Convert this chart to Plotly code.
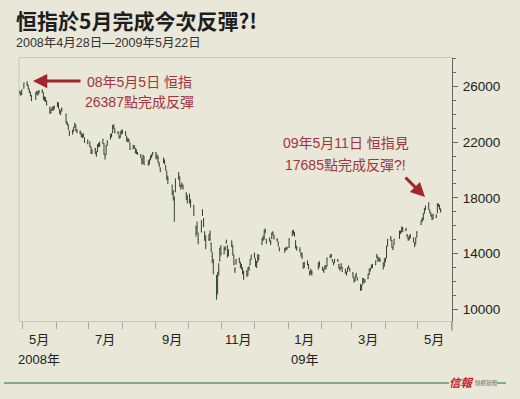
import pandas as pd
import plotly.graph_objects as go

# ---------------- data ----------------
HOLIDAYS = ["2008-05-01", "2008-05-12", "2008-06-09", "2008-07-01", "2008-08-22",
            "2008-09-15", "2008-10-01", "2008-10-07", "2008-12-25", "2008-12-26",
            "2009-01-01", "2009-01-26", "2009-01-27", "2009-01-28", "2009-04-10",
            "2009-04-13", "2009-05-01"]
DATES = [d.strftime("%Y-%m-%d") for d in pd.bdate_range("2008-04-28", "2009-05-22")
         if d.strftime("%Y-%m-%d") not in HOLIDAYS]

OPEN = [
    25600, 25580, 25450,
    25900, 26250, 26100, 25800, 25550, 25350, 25100, 25600, 25450, 25650, 25700, 25550, 25000, 25200, 24950, 24500, 24150, 24350, 24500, 24450,
    24600, 24800, 24350, 24050, 24350, 24000, 23400, 23250, 22800, 22650, 22850, 23150, 23200, 22850, 22700, 22650, 22450, 22550, 22300, 21950,
    22000, 21650, 21300, 21500, 21100, 21350, 21750, 21850, 21950, 21900, 21050, 21150, 21800, 22250, 22450, 22700, 23100, 22950, 22650, 22450, 22400, 22750,
    22700, 22750, 22400, 22150, 22200, 21950, 21550, 21750, 21550, 21200, 21250, 21100, 20800, 20500, 20950, 20400, 20500, 20750, 21050, 21150,
    21250, 20900, 20950, 20500, 20100, 20600, 20700, 20300, 19900, 19300, 18900, 18400, 17900, 18500, 19400, 19500, 18700, 18900, 18800, 18300, 17700,
    18200, 17500, 17400, 15900, 15800, 15000, 15600, 17100, 16500, 15300, 15000, 15000, 15500, 14700, 13800, 13500, 12400, 11200, 12800, 13500, 14400,
    14000, 14350, 14800, 14500, 13900, 14500, 14600, 13850, 12800, 13300, 13600, 13300, 13200, 12900, 12400, 12700, 12500, 12950, 13200, 13600,
    14000, 13600, 13100, 13400, 13600, 14700, 15100, 15100, 15700, 15000, 14900, 14800, 15100, 15400, 15300, 15000, 14800, 14400, 14100, 14300, 14400,
    14450, 15300, 15600, 15500, 14900, 14300, 14200, 14000, 14000, 13300, 13100, 13400, 13200, 12600, 12800, 12600, 12900, 13100,
    13000, 12700, 12900, 13050, 13100, 13750, 13800, 13450, 13300, 13350, 13550, 13200, 12900, 13000, 13000, 12600, 12600, 12700, 13050, 12900,
    12600, 12200, 12050, 12450, 12200, 11750, 11400, 11800, 12150, 11950, 12200, 12500, 12850, 12950, 13100, 13200, 13700, 13750, 13550, 13600, 13300, 13100,
    13600, 13700, 14600, 15100, 14900, 14300, 14650, 15100, 15500, 15600, 15800, 15700, 15300, 15100, 15100, 15200, 15100, 14700, 14700, 15200,
    16100, 16400, 16500, 16900, 17200, 17300, 17100, 16850, 16700, 16500, 16600, 16900, 17500, 17450, 17150,
]
HIGH = [
    25750, 25650, 25790,
    26300, 26387, 26150, 25850, 25650, 25400, 25600, 25700, 25700, 25750, 25800, 25600, 25300, 25250, 25000, 24550, 24400, 24550, 24600, 24650,
    24900, 24850, 24400, 24300, 24500, 24050, 23500, 23300, 22850, 22900, 23100, 23400, 23250, 22950, 22850, 22700, 22600, 22650, 22350, 22200,
    22050, 21700, 21500, 21600, 21350, 21850, 21950, 22050, 22250, 21950, 21150, 21800, 22150, 22600, 22650, 23250, 23300, 23000, 22800, 22500, 22750, 22900,
    22900, 22800, 22450, 22300, 22250, 21980, 21800, 21800, 21600, 21500, 21300, 21150, 20850, 21100, 21000, 20700, 20800, 21050, 21150, 21300,
    21300, 21150, 21000, 20550, 20200, 20900, 20750, 20350, 19950, 19600, 18950, 18550, 18100, 19400, 19850, 19550, 18950, 19100, 18950, 18400, 18200,
    18300, 17900, 17500, 16000, 16300, 15500, 16400, 17180, 16550, 15600, 15300, 15400, 15650, 14800, 14100, 13600, 12450, 12650, 13300, 14400, 14600,
    14500, 14500, 15000, 14600, 14300, 14950, 14600, 13900, 13000, 13600, 13700, 13400, 13250, 13000, 12750, 12800, 13000, 13100, 13600, 13900,
    14050, 13650, 13450, 13950, 13900, 15100, 15300, 15700, 15800, 15050, 15150, 14950, 15500, 15600, 15350, 15100, 14850, 14450, 14400, 14450, 14500,
    15100, 15650, 15700, 15550, 14950, 14550, 14450, 14100, 14050, 13350, 13400, 13500, 13250, 12750, 12900, 12800, 13350, 13450,
    13050, 12900, 13150, 13150, 13700, 13950, 13950, 13600, 13400, 13600, 13600, 13250, 13050, 13300, 13050, 12900, 12700, 13000, 13150, 12950,
    12650, 12250, 12400, 12600, 12300, 11800, 11750, 12250, 12200, 12150, 12550, 12900, 12950, 13200, 13250, 13500, 13950, 13800, 13700, 13700, 13350, 13650,
    13700, 14550, 15050, 15250, 14950, 14550, 15050, 15650, 15650, 15950, 15900, 15850, 15400, 15200, 15300, 15400, 15150, 14800, 15150, 15600,
    16400, 16600, 16900, 17250, 17450, 17685, 17150, 16950, 16800, 16850, 16800, 17600, 17600, 17500, 17250,
]
LOW = [
    25450, 25350, 25400,
    25850, 26050, 25800, 25550, 25300, 24950, 25050, 25400, 25350, 25500, 25550, 25050, 24950, 24900, 24650, 24050, 24050, 24250, 24250, 24350,
    24550, 24400, 24050, 23950, 24200, 23350, 23200, 22900, 22450, 22550, 22750, 23050, 22800, 22650, 22550, 22350, 22300, 22350, 21950, 21850,
    21650, 21150, 21150, 21150, 20950, 21300, 21650, 21650, 21900, 21100, 20750, 21100, 21750, 22200, 22350, 22650, 22950, 22650, 22550, 22250, 22300, 22550,
    22600, 22450, 22050, 22000, 22000, 21450, 21500, 21550, 21200, 21150, 21100, 20850, 20400, 20450, 20350, 20300, 20400, 20700, 20850, 21050,
    20800, 20750, 20500, 20200, 19850, 20500, 20400, 19950, 19300, 19000, 18200, 17800, 16283, 18400, 19300, 18800, 18600, 18750, 18600, 17850, 17600,
    17600, 17300, 16700, 15200, 15400, 14650, 15500, 16700, 15900, 14900, 14300, 14900, 14900, 14100, 13300, 12500, 10676, 11050, 12400, 13400, 13850,
    13950, 14200, 14700, 13700, 13800, 14450, 13850, 13150, 12600, 13200, 13300, 12950, 12850, 12500, 12100, 12300, 12400, 12750, 13150, 13550,
    13650, 13050, 12950, 13350, 13500, 14600, 14900, 15000, 15450, 14700, 14850, 14600, 15050, 15300, 15000, 14850, 14500, 14150, 14050, 14200, 14250,
    14400, 15250, 15350, 15200, 14350, 14200, 14100, 13750, 13600, 12900, 12950, 13150, 12850, 12400, 12500, 12400, 12850, 13000,
    12750, 12600, 12850, 12850, 13050, 13650, 13700, 13400, 13150, 13300, 13400, 12900, 12750, 12900, 12650, 12550, 12400, 12650, 12900, 12700,
    12250, 11900, 12000, 12300, 12050, 11300, 11345, 11750, 11850, 11900, 12150, 12450, 12700, 12900, 12950, 13150, 13650, 13400, 13400, 13400, 12850, 13050,
    13350, 13650, 14500, 14900, 14400, 14250, 14600, 15050, 15400, 15500, 15550, 15600, 15150, 14900, 14950, 15100, 14800, 14450, 14650, 15150,
    16050, 16250, 16400, 16850, 17100, 17150, 16900, 16650, 16400, 16450, 16550, 16900, 17350, 17150, 16950,
]
CLOSE = [
    25628, 25534, 25755,
    26241, 26167, 25884, 25610, 25449, 25063, 25543, 25533, 25618, 25619, 25666, 25083, 25169, 24998, 24714, 24128, 24318, 24483, 24375, 24533,
    24831, 24481, 24124, 24255, 24403, 23376, 23327, 22971, 22592, 22760, 23059, 23325, 22874, 22745, 22714, 22456, 22412, 22456, 22042, 22102,
    21702, 21242, 21423, 21220, 21220, 21811, 21881, 21800, 22184, 21174, 21011, 21735, 22057, 22532, 22495, 23134, 23087, 22741, 22690, 22340, 22690, 22731,
    22805, 22514, 22101, 22180, 22104, 21479, 21723, 21640, 21293, 21392, 21160, 20931, 20484, 21047, 20392, 20595, 20678, 20972, 21012, 21261,
    20907, 21042, 20586, 20389, 19933, 20794, 20491, 20040, 19388, 19352, 18300, 18086, 17632, 19327, 19632, 18872, 18800, 18934, 18682, 17880, 18016,
    17681, 17682, 16803, 15431, 15943, 14796, 16312, 16832, 15999, 15230, 14554, 15323, 15042, 14266, 13761, 12619, 11016, 12597, 12702, 14329, 13969,
    14345, 14384, 14840, 13790, 14244, 14744, 13939, 13221, 12901, 13542, 13529, 13130, 12915, 12815, 12659, 12458, 12958, 12878, 13552, 13888,
    13810, 13130, 13391, 13910, 13846, 15045, 14999, 15655, 15578, 14758, 15046, 14833, 15460, 15498, 15128, 14955, 14564, 14220, 14328, 14329, 14387,
    15042, 15563, 15509, 15328, 14415, 14377, 14272, 13971, 13701, 12977, 13255, 13256, 12958, 12584, 12693, 12579, 13267, 13278,
    12863, 12776, 13063, 12943, 13655, 13769, 13880, 13539, 13228, 13555, 13455, 12945, 12915, 13208, 12699, 12798, 12528, 12924, 13000, 12812,
    12317, 11973, 12333, 12480, 12110, 11344, 11694, 12194, 11950, 12001, 12486, 12876, 12834, 13130, 13117, 13447, 13910, 13493, 13620, 13456, 12908, 13576,
    13519, 14521, 14998, 15041, 14480, 14474, 15008, 15580, 15583, 15751, 15601, 15750, 15285, 15057, 15214, 15258, 14840, 14555, 15096, 15521,
    16381, 16430, 16880, 17217, 17389, 17185, 16934, 16790, 16541, 16790, 16738, 17544, 17475, 17199, 17063,
]

MONTH_TICKS = ["2008-05-16", "2008-07-16", "2008-09-16", "2008-11-16",
               "2009-01-16", "2009-03-16", "2009-05-16"]
MONTH_LABELS = ["5月", "7月", "9月", "11月", "1月", "3月", "5月"]
YEAR_TICKS = ["2008-05-16", "2009-01-16"]
YEAR_LABELS = ["2008年", "09年"]
MONTH_STARTS = ["2008-%02d-01" % m for m in range(5, 13)] + ["2009-%02d-01" % m for m in range(1, 7)]
Y_TICKS = [10000, 14000, 18000, 22000, 26000]
Y_LABELS = ["10000", "14000", "18000", "22000", "26000"]

TITLE = "恒指於5月完成今次反彈?!"
SUBTITLE = "2008年4月28日—2009年5月22日"
NOTE1 = ["08年5月5日 恒指", "26387點完成反彈"]
NOTE2 = ["09年5月11日 恒指見", "17685點完成反彈?!"]

assert len(DATES) == len(OPEN) == len(HIGH) == len(LOW) == len(CLOSE), \
    (len(DATES), len(OPEN), len(HIGH), len(LOW), len(CLOSE))

# ---------------- figure ----------------
BG = "#e8e7d8"
BAR = "#334233"
RED_TXT = "#a3343d"
RED_ARR = "#a3252b"
FONT = "Liberation Sans, Arial, Noto Sans CJK TC, sans-serif"

W, H = 520, 399
L, R, T, B = 19, 68, 58, 78
PW, PH = W - L - R, H - T - B


def px(x):
    return (x - L) / PW


def py(y):
    return (H - B - y) / PH


fig = go.Figure(go.Ohlc(
    x=DATES, open=OPEN, high=HIGH, low=LOW, close=CLOSE,
    increasing=dict(line=dict(color=BAR, width=1)),
    decreasing=dict(line=dict(color=BAR, width=1)),
    tickwidth=0.5, hoverinfo="skip",
))

fig.update_layout(
    width=W, height=H, autosize=False,
    margin=dict(l=L, r=R, t=T, b=B, pad=0),
    paper_bgcolor=BG, plot_bgcolor=BG,
    showlegend=False,
    font=dict(family=FONT, color="#222222"),
)

fig.update_xaxes(
    type="date", range=["2008-04-27 12:00", "2009-06-01 12:00"],
    rangeslider=dict(visible=False),
    showgrid=False, zeroline=False,
    showline=True, linecolor="#c6c6bc", linewidth=1, mirror=True,
    tickmode="array", tickvals=MONTH_TICKS, ticktext=MONTH_LABELS,
    ticks="", tickfont=dict(size=13, color="#222222"),
    ticklabelstandoff=6,
    minor=dict(tickmode="array", tickvals=MONTH_STARTS, ticks="outside",
               ticklen=7, tickcolor="#a8a8a0", tickwidth=1, showgrid=False),
)

fig.update_yaxes(
    side="right", range=[9140, 28060],
    showgrid=False, zeroline=False,
    showline=True, linecolor="#666666", linewidth=1,
    tickmode="array", tickvals=Y_TICKS, ticktext=Y_LABELS,
    ticks="outside", ticklen=5, tickcolor="#666666", tickwidth=1,
    tickfont=dict(size=13.5, color="#222222"),
    ticklabelstandoff=2,
    minor=dict(dtick=1000, tick0=0, ticks="outside", ticklen=3,
               tickcolor="#666666", showgrid=False),
)

shapes = [
    dict(type="line", xref="paper", yref="paper", x0=0, x1=0, y0=0, y1=1,
         line=dict(color="#c6c6bc", width=1)),
    dict(type="line", xref="paper", yref="paper", x0=1, x1=1, y0=0, y1=py(331),
         line=dict(color="#888888", width=1)),
    dict(type="line", xref="paper", yref="paper", x0=px(4), x1=px(449), y0=py(383), y1=py(383),
         line=dict(color="#5b9a66", width=1.5)),
    dict(type="line", xref="paper", yref="paper", x0=px(497), x1=px(506), y0=py(383), y1=py(383),
         line=dict(color="#5b9a66", width=1.5)),
]
fig.update_layout(shapes=shapes)

ann = []
ann.append(dict(xref="paper", yref="paper", x=px(14), y=py(20.5), xanchor="left", yanchor="middle",
                text="<b>%s</b>" % TITLE, showarrow=False,
                font=dict(size=21, color="#1e1e1e", family="Noto Sans CJK TC, sans-serif")))
ann.append(dict(xref="paper", yref="paper", x=px(14), y=py(43), xanchor="left", yanchor="middle",
                text=SUBTITLE, showarrow=False,
                font=dict(size=12.5, color="#333333", family=FONT)))
for t in range(2):
    ann.append(dict(xref="x", yref="paper", x=YEAR_TICKS[t], y=py(359.5), xanchor="center",
                    yanchor="middle", text=YEAR_LABELS[t], showarrow=False,
                    font=dict(size=13, color="#222222", family=FONT)))
for i, yy in enumerate([81.7, 101.7]):
    ann.append(dict(xref="paper", yref="paper", x=px(139), y=py(yy), xanchor="center",
                    yanchor="middle", text=NOTE1[i], showarrow=False,
                    font=dict(size=14, color=RED_TXT, family=FONT)))
for i, yy in enumerate([143, 164.5]):
    ann.append(dict(xref="paper", yref="paper", x=px(345.5), y=py(yy), xanchor="center",
                    yanchor="middle", text=NOTE2[i], showarrow=False,
                    font=dict(size=14, color=RED_TXT, family=FONT)))
ann.append(dict(xref="paper", yref="paper", x=px(33), y=py(81), ax=49, ay=0, text="",
                showarrow=True, arrowhead=2, arrowsize=0.95, arrowwidth=3,
                arrowcolor=RED_ARR, standoff=0))
ann.append(dict(xref="paper", yref="paper", x=px(425), y=py(197), ax=-21, ay=-21, text="",
                showarrow=True, arrowhead=2, arrowsize=0.95, arrowwidth=3,
                arrowcolor=RED_ARR, standoff=0))
ann.append(dict(xref="paper", yref="paper", x=px(462), y=py(382), xanchor="center", yanchor="middle",
                text="<b><i>信報</i></b>", showarrow=False,
                font=dict(size=11.5, color="#c8202a", family="Noto Sans CJK TC, sans-serif")))
ann.append(dict(xref="paper", yref="paper", x=px(486), y=py(382.5), xanchor="center", yanchor="middle",
                text="財經新聞", showarrow=False,
                font=dict(size=5.5, color="#666666", family="Noto Sans CJK TC, sans-serif")))
fig.update_layout(annotations=ann)

fig.write_html("out.html",
               config={"displayModeBar": False, "staticPlot": True},
               post_script="document.body.style.margin='0';document.body.style.background='%s';" % BG)
